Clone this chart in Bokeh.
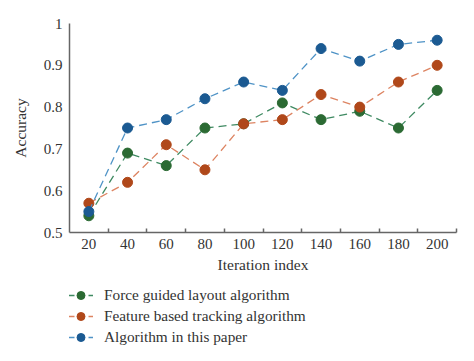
from bokeh.plotting import figure
from bokeh.models import Range1d, FixedTicker, CustomJSTickFormatter, Legend, LegendItem
from bokeh.layouts import column
from bokeh.embed import file_html
from bokeh.resources import INLINE

iterations = [20, 40, 60, 80, 100, 120, 140, 160, 180, 200]
force_guided = [0.54, 0.69, 0.66, 0.75, 0.76, 0.81, 0.77, 0.79, 0.75, 0.84]
feature_based = [0.57, 0.62, 0.71, 0.65, 0.76, 0.77, 0.83, 0.80, 0.86, 0.90]
this_paper = [0.55, 0.75, 0.77, 0.82, 0.86, 0.84, 0.94, 0.91, 0.95, 0.96]
y_ticks = [0.5, 0.6, 0.7, 0.8, 0.9, 1.0]
x_boundaries = [30, 50, 70, 90, 110, 130, 150, 170, 190, 210]

series = [
    ("Force guided layout algorithm", force_guided, "#3f8a62", "#2b6a33"),
    ("Feature based tracking algorithm", feature_based, "#dd8462", "#b0481a"),
    ("Algorithm in this paper", this_paper, "#4f93c6", "#1b5a92"),
]

FONT = "Liberation Serif"

p = figure(frame_width=387, frame_height=209, output_backend="svg", toolbar_location=None,
           x_range=Range1d(10, 210), y_range=Range1d(0.5, 1.0),
           min_border_left=69, min_border_right=18, min_border_top=23, min_border_bottom=0)
p.outline_line_color = None
p.xgrid.visible = False
p.ygrid.visible = False
p.background_fill_color = "white"

# legend-only figure below the chart (its glyphs fall outside its visible range)
lf = figure(width=474, height=84, output_backend="svg", toolbar_location=None,
            x_range=Range1d(1000, 1001), y_range=Range1d(1000, 1001),
            x_axis_location=None, y_axis_location=None,
            min_border_left=0, min_border_right=0, min_border_top=0, min_border_bottom=0)
lf.outline_line_color = None
lf.xgrid.visible = False
lf.ygrid.visible = False

items = []
for name, vals, lc, mc in series:
    p.line(iterations, vals, line_color=lc, line_width=1.3, line_dash="8 5")
    p.scatter(iterations, vals, size=10, fill_color=mc, line_color=mc)
    l2 = lf.line(iterations, vals, line_color=lc, line_width=1.3, line_dash="6 4")
    s2 = lf.scatter(iterations, vals, size=9, fill_color=mc, line_color=mc)
    items.append(LegendItem(label=name, renderers=[l2, s2]))

xa = p.xaxis[0]
xa.ticker = FixedTicker(ticks=iterations, minor_ticks=x_boundaries)
xa.major_tick_in = 0
xa.major_tick_out = 0
xa.minor_tick_in = 4
xa.minor_tick_out = 0
xa.minor_tick_line_color = "#666666"
xa.minor_tick_line_width = 1.5
xa.axis_label = "Iteration index"

ya = p.yaxis[0]
ya.ticker = FixedTicker(ticks=y_ticks, minor_ticks=[])
ya.formatter = CustomJSTickFormatter(code="return (Math.round(tick*10)/10).toString();")
ya.major_tick_in = 0
ya.major_tick_out = 0
ya.minor_tick_in = 0
ya.minor_tick_out = 0
ya.axis_label = "Accuracy"

for ax in (xa, ya):
    ax.axis_line_color = "#666666"
    ax.axis_line_width = 1.5
    ax.major_label_text_font = FONT
    ax.major_label_text_font_size = "15px"
    ax.major_label_text_color = "#333333"
    ax.axis_label_text_font = FONT
    ax.axis_label_text_font_size = "15.5px"
    ax.axis_label_text_font_style = "normal"
    ax.axis_label_text_color = "#333333"
    ax.major_label_standoff = 7
xa.major_label_standoff = 6
xa.axis_label_standoff = 4
ya.axis_label_standoff = 12

legend = Legend(items=items, location=(-1, 12), orientation="vertical")
legend.label_text_font = FONT
legend.label_text_font_size = "15.3px"
legend.label_text_color = "#333333"
legend.glyph_width = 25
legend.glyph_height = 20
legend.label_height = 20
legend.label_standoff = 11
legend.spacing = 1
legend.padding = 0
legend.margin = 0
legend.border_line_color = None
legend.background_fill_alpha = 0
lf.add_layout(legend, "center")

layout = column(p, lf, spacing=0)
open("out.html", "w").write(file_html(layout, INLINE))
